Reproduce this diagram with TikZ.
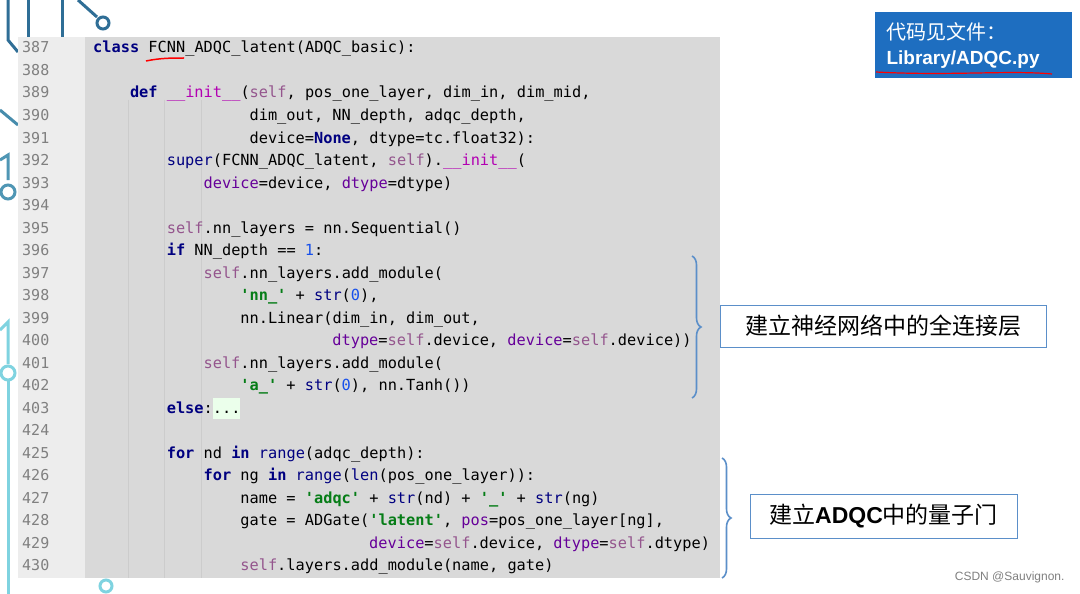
\documentclass[tikz,border=0pt]{standalone}
\usepackage{fontspec}
\setmainfont{Liberation Sans}
\setmonofont{DejaVu Sans Mono}
\newfontfamily\cjk{Noto Sans CJK SC}
\usetikzlibrary{decorations.pathreplacing}

\definecolor{kwblue}{HTML}{000080}
\definecolor{selfpurple}{HTML}{94558D}
\definecolor{strgreen}{HTML}{067D17}
\definecolor{numblue}{HTML}{1750EB}
\definecolor{magic}{HTML}{B200B2}
\definecolor{argpurple}{HTML}{660099}
\definecolor{panel}{HTML}{D9D9D9}
\definecolor{gutter}{HTML}{EDEDED}
\definecolor{notebox}{HTML}{1E6EC0}
\definecolor{boxblue}{HTML}{5B8FC9}
\definecolor{wire}{HTML}{2F6E96}
\definecolor{wirelight}{HTML}{7FD3E0}

\newcommand{\kwd}[1]{\textcolor{kwblue}{\textbf{#1}}}
\newcommand{\slf}{\textcolor{selfpurple}{self}}
\newcommand{\strg}[1]{\textcolor{strgreen}{\textbf{#1}}}
\newcommand{\numc}[1]{\textcolor{numblue}{#1}}
\newcommand{\argc}[1]{\textcolor{argpurple}{#1}}

\begin{document}
\begin{tikzpicture}[x=1pt,y=-1pt,
  code/.style={anchor=base west,inner sep=0pt,font=\ttfamily\fontsize{15.3}{15}\selectfont},
  lineno/.style={anchor=base west,inner sep=0pt,text=gray,font=\ttfamily\fontsize{15}{15}\selectfont},
  note/.style={draw=boxblue,fill=white,line width=1pt,inner sep=6pt,font=\cjk\fontsize{23}{23}\selectfont},
  brace/.style={decorate,decoration={brace,amplitude=9pt},draw=boxblue,line width=1.6pt}]
  \useasboundingbox (0,0) rectangle (1080,594);
  \fill[white] (0,0) rectangle (1080,594);

  % circuit decoration on the left
  \begin{scope}[line width=3pt]
    \draw[wire] (8,0) -- (8,40) -- (18,52);
    \draw[wire] (28,0) -- (28,37);
    \draw[wire] (62,0) -- (62,37);
    \draw[wire] (78,0) -- (97,17);
    \draw[wire] (103,23) circle (6);
    \draw[wire!70!wirelight] (0,110) -- (18,125);
    \draw[wire!60!wirelight] (0,160) -- (8,155) -- (8,180);
    \draw[wire!60!wirelight] (8,192) circle (7);
    \draw[wirelight] (0,330) -- (8,322) -- (8,364);
    \draw[wirelight] (8,373) circle (7);
    \draw[wirelight] (8,380) -- (8,594);
    \draw[wirelight] (106,586) circle (6);
  \end{scope}

  % code panel
  \fill[gutter] (18,37) rectangle (720,578);
  \fill[panel] (85,37) rectangle (720,578);
  \foreach \gx in {128,164,201} \draw[gray!40] (\gx,100) -- (\gx,578);

  \foreach \n [count=\i from 0] in {387,388,389,390,391,392,393,394,395,396,397,398,399,400,401,402,403,424,425,426,427,428,429,430}
    \node[lineno] (ln\n) at (22,53+22.5*\i) {\n};

  \newcommand{\cl}[3]{\node[code] (c#1) at (93+9.2*#2,53+22.5*#1) {#3};}
  \cl{0}{0}{\kwd{class} FCNN\_ADQC\_latent(ADQC\_basic):}
  \cl{2}{4}{\kwd{def} \textcolor{magic}{\_\_init\_\_}(\slf, pos\_one\_layer, dim\_in, dim\_mid,}
  \cl{3}{17}{dim\_out, NN\_depth, adqc\_depth,}
  \cl{4}{17}{device=\kwd{None}, dtype=tc.float32):}
  \cl{5}{8}{\textcolor{kwblue}{super}(FCNN\_ADQC\_latent, \slf).\textcolor{magic}{\_\_init\_\_}(}
  \cl{6}{12}{\argc{device}=device, \argc{dtype}=dtype)}
  \cl{8}{8}{\slf.nn\_layers = nn.Sequential()}
  \cl{9}{8}{\kwd{if} NN\_depth == \numc{1}:}
  \cl{10}{12}{\slf.nn\_layers.add\_module(}
  \cl{11}{16}{\strg{'nn\_'} + \textcolor{kwblue}{str}(\numc{0}),}
  \cl{12}{16}{nn.Linear(dim\_in, dim\_out,}
  \cl{13}{26}{\argc{dtype}=\slf.device, \argc{device}=\slf.device))}
  \cl{14}{12}{\slf.nn\_layers.add\_module(}
  \cl{15}{16}{\strg{'a\_'} + \textcolor{kwblue}{str}(\numc{0}), nn.Tanh())}
  \fill[green!8] (93+9.2*13,53+22.5*16-15) rectangle (93+9.2*16,53+22.5*16+6);
  \cl{16}{8}{\kwd{else}:...}
  \cl{18}{8}{\kwd{for} nd \kwd{in} \textcolor{kwblue}{range}(adqc\_depth):}
  \cl{19}{12}{\kwd{for} ng \kwd{in} \textcolor{kwblue}{range}(\textcolor{kwblue}{len}(pos\_one\_layer)):}
  \cl{20}{16}{name = \strg{'adqc'} + \textcolor{kwblue}{str}(nd) + \strg{'\_'} + \textcolor{kwblue}{str}(ng)}
  \cl{21}{16}{gate = ADGate(\strg{'latent'}, \argc{pos}=pos\_one\_layer[ng],}
  \cl{22}{30}{\argc{device}=\slf.device, \argc{dtype}=\slf.dtype)}
  \cl{23}{16}{\slf.layers.add\_module(name, gate)}

  % red underline
  \draw[red,line width=1.5pt] (146,61) .. controls (160,58) and (172,58) .. (184,58);

  % note box top right
  \node[fill=notebox,text=white,minimum width=197pt,minimum height=66pt,inner sep=0pt] (file) at (973.5,45) {};
  \node[anchor=west,text=white,font=\cjk\fontsize{20}{20}\selectfont] (filecn) at (883,32) {代码见文件：};
  \node[anchor=west,text=white,font=\bfseries\fontsize{19}{19}\selectfont] (filepath) at (883,60) {Library/ADQC.py};
  \draw[red,line width=1.2pt] (876,72) .. controls (950,76) and (1010,70) .. (1052,74);

  % annotations
  \node[note,minimum width=326pt,minimum height=42pt] (nn) at (883,326) {建立神经网络中的全连接层};
  \node[note,minimum width=267pt,minimum height=44pt] (adqc) at (883.5,516) {建立\textbf{\sffamily\fontspec{Liberation Sans}ADQC}中的量子门};
  \draw[brace] (692,256) -- (692,398);
  \draw[brace] (722,458) -- (722,578);

  \node[anchor=east,text=gray,font=\fontsize{12}{12}\selectfont] (mark) at (1068,577) {CSDN @Sauvignon.};
\end{tikzpicture}
\end{document}
